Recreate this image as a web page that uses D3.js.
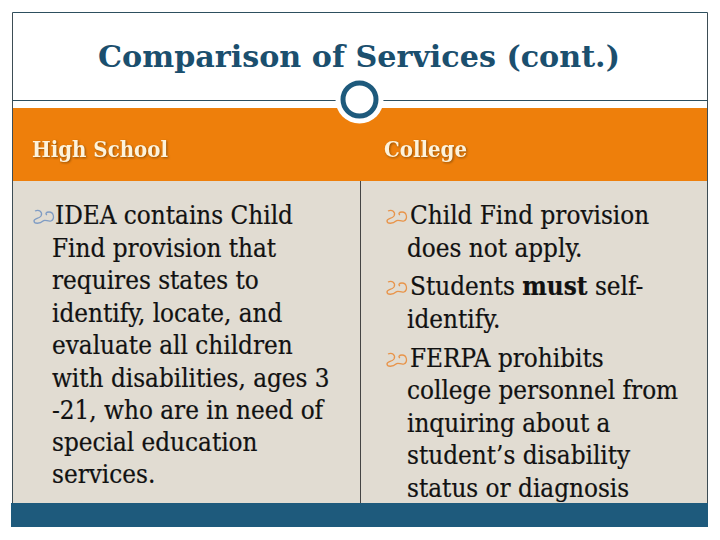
<!DOCTYPE html>
<html>
<head>
<meta charset="utf-8">
<script src="https://cdn.jsdelivr.net/npm/d3@7"></script>
<style>
    body { margin: 0; background: #fff; }
    svg { display: block; }
    text { font-family: "DejaVu Serif Condensed", "DejaVu Serif", serif; }
</style>
</head>
<body>
<svg id="slide" width="720" height="540"></svg>
<script>
var titleText = "Comparison of Services (cont.)";
var headers = ["High School", "College"];
var highSchoolLines = [
    "IDEA contains Child", "Find provision that", "requires states to",
    "identify, locate, and", "evaluate all children", "with disabilities, ages 3",
    "-21, who are in need of", "special education", "services."
];
var highSchoolBullets = [true, false, false, false, false, false, false, false, false];
var collegeLines = [
    "Child Find provision", "does not apply.", "Students |must| self-", "identify.",
    "FERPA prohibits", "college personnel from", "inquiring about a",
    "student\u2019s disability", "status or diagnosis"
];
var collegeBullets = [true, false, true, false, true, false, false, false, false];

var svg = d3.select("#slide");
var blue = "#1e5a7c", titleBlue = "#1b4f6e", line = "#2d4f5f", orange = "#ee7f0b", beige = "#e1dcd2";

function rect(x, y, w, h, fill) {
    return svg.append("rect").attr("x", x).attr("y", y).attr("width", w).attr("height", h).attr("fill", fill);
}

function rule(x1, x2, y1, y2, color) {
    svg.append("line").attr("x1", x1).attr("x2", x2).attr("y1", y1).attr("y2", y2)
        .attr("stroke", color || line).attr("stroke-width", 1);
}

rect(12, 108, 695, 73, orange);
rect(12, 181, 695, 322, beige);
rect(11, 503, 697, 24, blue);

rule(12.5, 707.5, 12.5, 12.5);
rule(12.5, 12.5, 12.5, 503, "#3d4d55");
rule(707.5, 707.5, 12.5, 503, "#3d4d55");
rule(12.5, 707.5, 100.5, 100.5);
rule(360.5, 360.5, 181, 503, "#444");

svg.append("circle").attr("cx", 359.5).attr("cy", 99.5).attr("r", 24).attr("fill", "#fff");
svg.append("circle").attr("cx", 359.5).attr("cy", 99.5).attr("r", 16.5)
    .attr("fill", "#fff").attr("stroke", blue).attr("stroke-width", 5);

svg.append("text").attr("x", 359).attr("y", 66.5).attr("text-anchor", "middle")
    .style("font-family", '"DejaVu Serif", serif')
    .attr("font-size", 30.2).attr("font-weight", "bold").attr("fill", titleBlue).text(titleText);

var headerX = d3.scaleOrdinal().domain(headers).range([32, 384]);
svg.selectAll("text.header").data(headers).enter().append("text")
    .attr("class", "header")
    .attr("x", function(d) { return headerX(d); })
    .attr("y", 157)
    .attr("font-size", 22).attr("font-weight", "bold").attr("fill", "#fdf3dc")
    .style("filter", "drop-shadow(1px 1px 1px rgba(90,50,0,0.6))")
    .text(function(d) { return d; });

function drawColumn(lines, bullets, bulletX, textX, bulletedX, bulletColor, rowY) {
    var g = svg.append("g");
    lines.forEach(function(d, i) {
        var t = g.append("text").attr("x", bullets[i] ? bulletedX : textX).attr("y", rowY[i])
            .attr("font-size", 25.8).attr("fill", "#111")
            .attr("stroke", "#111").attr("stroke-width", 0.2);
        d.split("|").forEach(function(part, k) {
            t.append("tspan").attr("font-weight", k % 2 ? "bold" : "normal").text(part);
        });
        if (bullets[i]) {
            g.append("path")
                .attr("transform", "translate(" + bulletX + "," + (rowY[i] - 7) + ")")
                .attr("d", "M2 -6C6 -8 10 -5 8 -1C6 2 1 1 1 4C1 7 7 7 10 4C12 2 15 5 18 4C22 2 21 -5 16 -5C13 -5 12 -3 14 -2")
                .attr("fill", "none").attr("stroke", bulletColor).attr("stroke-width", 1.3);
        }
    });
}

drawColumn(highSchoolLines, highSchoolBullets, 33, 52, 55, "#7f9cc4", [224, 257, 289, 322, 354, 387, 419, 451, 483]);
drawColumn(collegeLines, collegeBullets, 386, 407, 410, "#e8944a", [224, 257, 295, 328, 367, 399, 432, 464, 497]);
</script>
</body>
</html>
